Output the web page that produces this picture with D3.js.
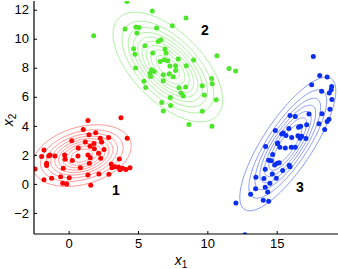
<!DOCTYPE html>
<html>
<head>
<meta charset="utf-8">
<script src="https://cdn.jsdelivr.net/npm/d3@7"></script>
<style>
  html, body { margin: 0; padding: 0; background: #fff; }
  svg { display: block; font-family: "Liberation Sans", Arial, Helvetica, sans-serif; }
</style>
</head>
<body>
<svg id="chart" width="338" height="269"></svg>
<script>
// ---- data ----
const xTicks = [0, 5, 10, 15];
const yTicks = [-2, 0, 2, 4, 6, 8, 10, 12];

const redPoints = [
  [1.39,4.37],[3.77,4.55],[1.05,3.74],[4.22,3.15],[1.95,3.52],[1.46,3.38],[2.28,3.15],[2.88,3.19],
  [0.22,2.97],[1.2,2.88],[1.82,2.78],[2.38,2.88],[0.69,2.48],[1.54,2.6],[-1.78,2.34],[-1.35,2.0],
  [-1.44,1.93],[-0.99,1.93],[-1.95,1.88],[-0.29,2.0],[0.67,1.93],[1.39,2.0],[2.16,2.12],[1.85,2.43],
  [2.55,2.37],[-0.25,1.7],[0.26,1.61],[1.56,1.81],[2.31,1.77],[-1.59,1.43],[3.65,1.72],[1.49,1.43],
  [3.07,1.38],[-2.43,1.03],[-1.59,1.26],[-0.39,1.08],[0.84,1.12],[3.12,1.12],[3.34,1.19],[3.58,1.17],
  [3.89,1.08],[4.13,0.99],[4.42,1.12],[3.7,0.97],[2.18,0.69],[1.39,0.62],[-1.23,0.39],[-0.58,0.5],
  [0.04,0.43],[-1.78,0.28],[-0.43,0.05],[-0.14,0.0],[1.59,-0.09],[2.9,0.67]
];
const greenPoints = [
  [4.2,12.57],[6.03,11.91],[8.46,11.43],[4.06,10.67],[4.85,10.81],[5.07,10.78],[6.34,10.74],[7.47,10.9],
  [4.92,10.39],[5.5,9.52],[6.46,9.81],[6.65,9.93],[4.69,9.31],[6.94,9.29],[4.78,8.94],[6.06,9.01],
  [7.02,9.01],[6.6,8.43],[6.89,8.55],[7.14,8.48],[7.9,8.6],[9.01,8.53],[10.69,8.83],[7.3,8.12],
  [7.71,8.14],[8.48,8.14],[4.83,7.98],[5.98,7.86],[6.17,7.74],[5.86,7.63],[7.71,7.81],[7.25,7.59],
  [7.54,7.38],[6.82,7.52],[5.43,7.08],[6.82,7.1],[5.91,7.4],[5.55,6.64],[7.95,6.62],[8.44,6.67],
  [9.63,6.76],[10.31,7.26],[10.35,6.9],[11.56,7.95],[12.04,7.77],[8.1,6.26],[8.26,6.05],[9.78,6.12],
  [10.64,5.79],[7.33,5.95],[6.71,5.61],[7.35,5.4],[6.82,5.03],[9.63,5.01],[8.67,4.09],[10.33,3.98],
  [1.8,10.21]
];
const bluePoints = [
  [17.64,8.78],[18.1,7.47],[18.64,7.36],[17.52,6.83],[18.96,6.71],[18.93,6.48],[18.24,6.39],[18.79,6.26],
  [18.98,5.81],[18.84,5.15],[17.33,4.81],[18.26,4.83],[15.96,4.71],[16.34,4.64],[18.77,4.46],[18.64,4.3],
  [18.05,4.14],[17.16,4.07],[16.73,3.98],[16.58,3.91],[15.88,3.81],[18.46,3.74],[14.9,3.68],[15.47,3.5],
  [15.36,3.43],[15.67,3.33],[16.53,3.31],[16.8,3.29],[16.08,3.19],[16.68,3.15],[17.11,3.12],[15.07,2.81],
  [14.2,2.57],[15.07,2.76],[15.23,2.53],[15.62,2.48],[16.05,2.53],[16.34,2.53],[14.71,2.02],[14.42,1.63],
  [14.61,1.59],[15.04,1.43],[15.18,1.45],[14.85,1.31],[15.9,1.29],[15.96,1.19],[14.17,1.01],[15.43,0.92],
  [14.68,0.69],[13.5,0.46],[14.08,0.37],[14.97,0.39],[14.51,0.05],[14.17,-0.23],[13.48,-0.34],[14.35,-0.55],
  [13.12,-0.71],[12.06,-1.31],[14.03,-1.12],[14.42,-1.19],[12.71,-3.5]
];

// Gaussian components: mean and covariance [a, b, c] = [[a,b],[b,c]]
const redMean = [0.95, 1.95];    const redCov = [2.75, 0.5, 0.98];
const greenMean = [7.15, 8.05];  const greenCov = [3.39, -1.94, 3.1];
const blueMean = [15.8, 2.75];   const blueCov = [2.6, 2.75, 4.6];
// contour levels as fraction of the peak density
const redLevels = [0.1,0.2,0.3,0.4,0.5,0.6,0.7,0.8,0.9];
const greenLevels = [0.1,0.2,0.3,0.4,0.5,0.6,0.7,0.8,0.9];
const blueLevels = [0.1,0.22,0.34,0.46,0.58,0.7,0.82];

const clusterLabels = ["1", "2", "3"];
const labelPos = [[3.41,-0.41],[9.83,10.62],[16.68,-0.2]];

// ---- drawing ----
const svg = d3.select("#chart");
const padL = 34, padR = 338, padT = 1, padB = 234;
const x = d3.scaleLinear().domain([-2.5, 19.42]).range([padL, padR]);
const y = d3.scaleLinear().domain([-3.45, 12.6]).range([padB, padT]);

svg.append("clipPath").attr("id", "clip")
  .append("rect").attr("x", padL).attr("y", padT).attr("width", padR - padL).attr("height", padB - padT);

const plot = svg.append("g").attr("clip-path", "url(#clip)");

function ellipsePts(mean, cov, r) {
  const [a, b, c] = cov;
  const l11 = Math.sqrt(a), l21 = b / l11, l22 = Math.sqrt(c - l21 * l21);
  return d3.range(0, 361, 3).map(deg => {
    const t = deg * Math.PI / 180;
    return [mean[0] + r * l11 * Math.cos(t), mean[1] + r * (l21 * Math.cos(t) + l22 * Math.sin(t))];
  });
}
const line = d3.line().x(d => x(d[0])).y(d => y(d[1]));

const comps = [
  {pts: redPoints, mean: redMean, cov: redCov, levels: redLevels, line: "#ff8a8a", fill: "#ff0000"},
  {pts: greenPoints, mean: greenMean, cov: greenCov, levels: greenLevels, line: "#a6ee96", fill: "#4ee62a"},
  {pts: bluePoints, mean: blueMean, cov: blueCov, levels: blueLevels, line: "#7f90f2", fill: "#0a2fee"}
];

comps.forEach(cp => {
  cp.levels.forEach(lv => {
    const r = Math.sqrt(-2 * Math.log(lv));
    plot.append("path").attr("d", line(ellipsePts(cp.mean, cp.cov, r)))
      .attr("fill", "none").attr("stroke", cp.line).attr("stroke-width", 0.9);
  });
});
comps.forEach(cp => {
  plot.selectAll(null).data(cp.pts).enter().append("circle")
    .attr("cx", d => x(d[0])).attr("cy", d => y(d[1])).attr("r", 2.5)
    .attr("fill", cp.fill);
});

// axes
const xAxis = d3.axisBottom(x).tickValues(xTicks).tickSizeInner(-3).tickSizeOuter(0).tickPadding(5);
const yAxis = d3.axisLeft(y).tickValues(yTicks).tickSizeInner(-3).tickSizeOuter(0).tickPadding(5);
const gx = svg.append("g").attr("transform", `translate(0,${padB})`).call(xAxis);
const gy = svg.append("g").attr("transform", `translate(${padL},0)`).call(yAxis);
[gx, gy].forEach(g => {
  g.select(".domain").attr("stroke", "#000").attr("stroke-width", 1.2);
  g.selectAll(".tick line").attr("stroke", "#000");
  g.selectAll(".tick text").attr("font-size", 13).attr("fill", "#000")
    .attr("font-family", "'Liberation Sans', Arial, sans-serif");
});
gx.select(".domain").attr("d", `M${padL},0H${padR}`);
gy.select(".domain").attr("d", `M0,${padT}V${padB}`);

// cluster labels
svg.selectAll(null).data(clusterLabels).enter().append("text")
  .attr("x", (d, i) => x(labelPos[i][0])).attr("y", (d, i) => y(labelPos[i][1]))
  .attr("text-anchor", "middle").attr("dominant-baseline", "central")
  .attr("font-size", 14).attr("font-weight", "bold").text(d => d);

// axis labels
const xl = svg.append("text").attr("x", 181).attr("y", 265).attr("text-anchor", "middle").attr("font-size", 14);
xl.append("tspan").attr("font-style", "italic").text("x");
xl.append("tspan").attr("font-size", 10).attr("dy", 3).text("1");

const yl = svg.append("text").attr("transform", "translate(13,120) rotate(-90)").attr("text-anchor", "middle").attr("font-size", 14);
yl.append("tspan").attr("font-style", "italic").text("x");
yl.append("tspan").attr("font-size", 10).attr("dy", 3).text("2");
</script>
</body>
</html>
